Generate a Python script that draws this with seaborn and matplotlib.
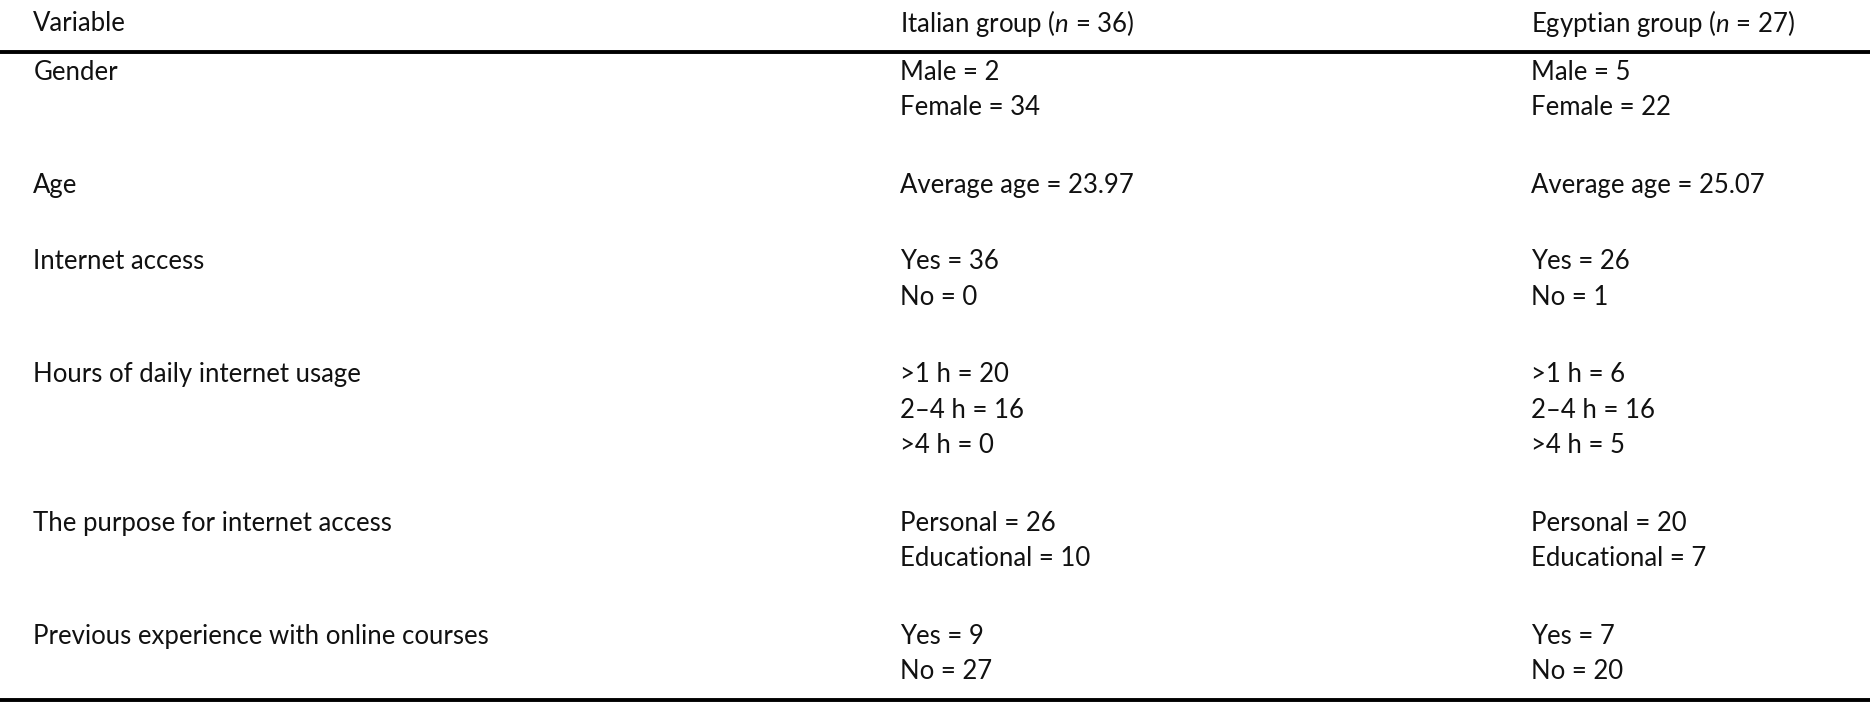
import matplotlib
matplotlib.use("Agg")
import matplotlib.pyplot as plt
import seaborn as sns

headers = ["Variable", "Italian group ($\\mathit{n}$ = 36)", "Egyptian group ($\\mathit{n}$ = 27)"]
variables = ["Gender", "Age", "Internet access", "Hours of daily internet usage",
             "The purpose for internet access", "Previous experience with online courses"]
italian = [["Male = 2", "Female = 34"], ["Average age = 23.97"], ["Yes = 36", "No = 0"],
           [">1 h = 20", "2\u20134 h = 16", ">4 h = 0"], ["Personal = 26", "Educational = 10"],
           ["Yes = 9", "No = 27"]]
egyptian = [["Male = 5", "Female = 22"], ["Average age = 25.07"], ["Yes = 26", "No = 1"],
            [">1 h = 6", "2\u20134 h = 16", ">4 h = 5"], ["Personal = 20", "Educational = 7"],
            ["Yes = 7", "No = 20"]]
row_starts = [61, 156, 220, 315, 440, 535]  # in 590-px reference units

sns.set_theme(style="white")
plt.rcParams['font.family'] = ['Lato', 'DejaVu Sans']
plt.rcParams['mathtext.fontset'] = 'custom'
plt.rcParams['mathtext.it'] = 'Lato:italic'
plt.rcParams['mathtext.rm'] = 'Lato'

fig = plt.figure(figsize=(18.7, 7.02), dpi=100)
ax = fig.add_axes([0, 0, 1, 1])
ax.set_xlim(0, 1568)
ax.set_ylim(590, 0)
ax.axis("off")

xs = [28, 755, 1284]
fs = 18.5
for x, h in zip(xs, headers):
    ax.text(x, 20, h, fontsize=fs, va="center", ha="left", color="#111")
ax.plot([0, 1568], [44, 44], color="black", lw=2.8)
ax.plot([0, 1568], [588, 588], color="black", lw=2.8)

step = 29.7
for var, it, eg, y0 in zip(variables, italian, egyptian, row_starts):
    ax.text(xs[0], y0, var, fontsize=fs, va="center", color="#111")
    for k, s in enumerate(it):
        ax.text(xs[1], y0 + k * step, s, fontsize=fs, va="center", color="#111")
    for k, s in enumerate(eg):
        ax.text(xs[2], y0 + k * step, s, fontsize=fs, va="center", color="#111")

fig.savefig("out.png", dpi=100, facecolor="white")
